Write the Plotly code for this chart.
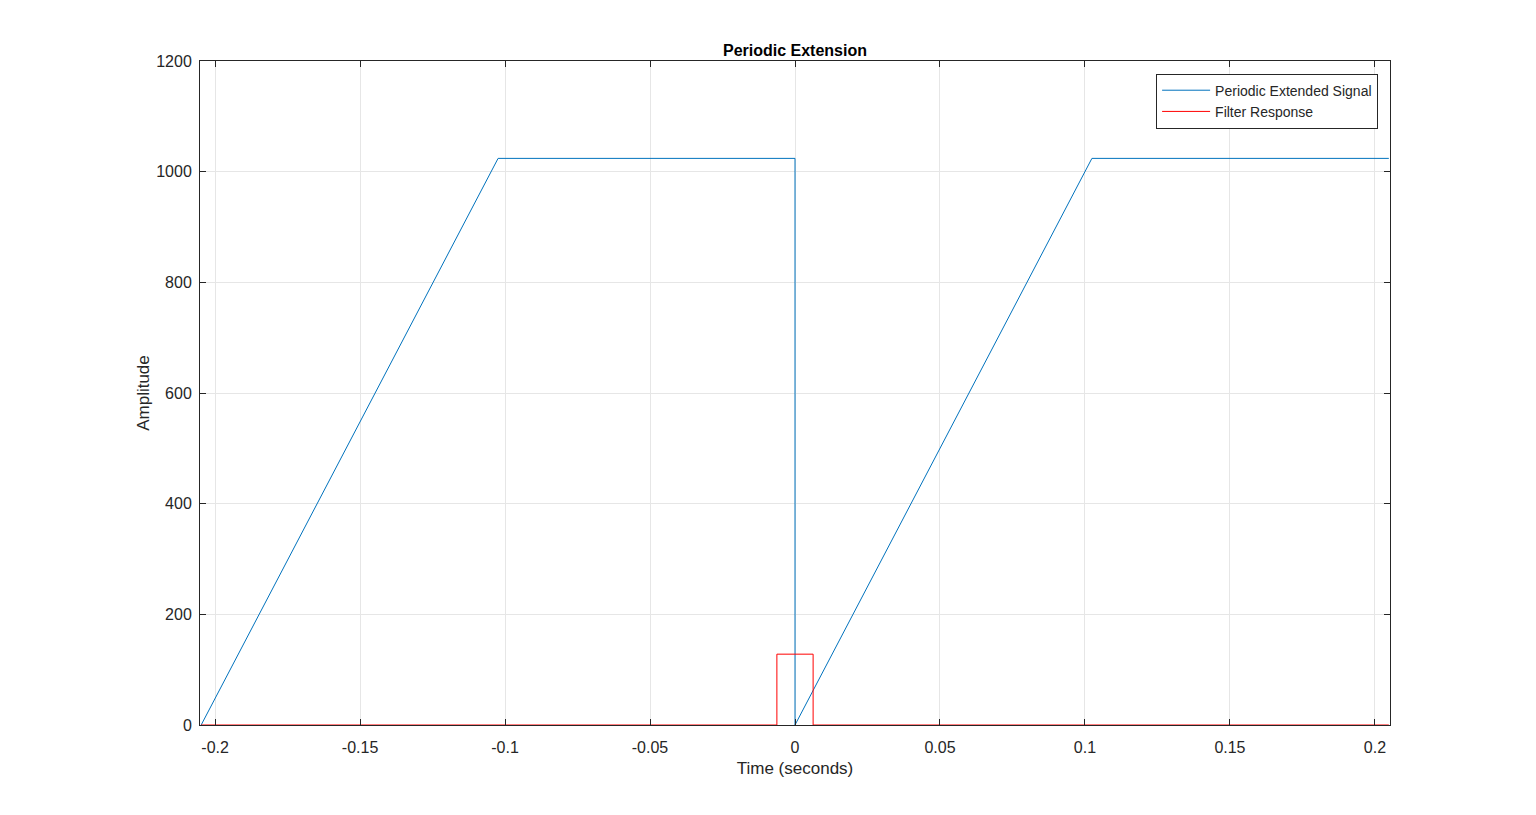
import plotly.graph_objects as go

sig_t = [-0.2048, -0.1024, 0.0, 0.0, 0.1024, 0.2048]
sig_y = [0, 1024, 1024, 0, 1024, 1024]
filt_t = [-0.2048, -0.00625, -0.00625, 0.00625, 0.00625, 0.2048]
filt_y = [0, 0, 128, 128, 0, 0]
xticks = [-0.2, -0.15, -0.1, -0.05, 0, 0.05, 0.1, 0.15, 0.2]
xlabels = ["-0.2", "-0.15", "-0.1", "-0.05", "0", "0.05", "0.1", "0.15", "0.2"]
yticks = [0, 200, 400, 600, 800, 1000, 1200]

fig = go.Figure()
fig.add_trace(go.Scatter(x=sig_t, y=sig_y, mode="lines", name="Periodic Extended Signal",
                         line=dict(color="#0072BD", width=1)))
fig.add_trace(go.Scatter(x=filt_t, y=filt_y, mode="lines", name="Filter Response",
                         line=dict(color="#FF0000", width=1)))
ax = dict(showline=True, linecolor="#262626", linewidth=1, mirror="ticks", ticks="inside",
          ticklen=6, tickcolor="#262626", showgrid=True, gridcolor="#E6E6E6", zeroline=False,
          tickfont=dict(size=16, color="#262626"))
fig.update_layout(
    width=1536, height=815, plot_bgcolor="white", paper_bgcolor="white",
    margin=dict(l=192, r=154, t=53, b=98),
    font=dict(family="Liberation Sans, Arial", color="#262626"),
    title=dict(text="<b>Periodic Extension</b>", x=0.5, xref="paper", y=1, yref="paper",
               yanchor="bottom", pad=dict(b=5), font=dict(size=16, color="black")),
    xaxis=dict(range=[-0.2052, 0.2052], tickvals=xticks, ticktext=xlabels, ticklabelstandoff=8,
               title=dict(text="Time (seconds)", font=dict(size=17), standoff=6), **ax),
    yaxis=dict(range=[0, 1200], tickvals=yticks, ticklabelstandoff=4,
               title=dict(text="Amplitude", font=dict(size=17), standoff=2), **ax),
    legend=dict(x=0.99, y=0.981, xanchor="right", yanchor="top", bgcolor="white",
                bordercolor="#262626", borderwidth=1, font=dict(size=14), tracegroupgap=0,
                itemwidth=48),
    showlegend=True,
)
fig.write_html("out.html")
